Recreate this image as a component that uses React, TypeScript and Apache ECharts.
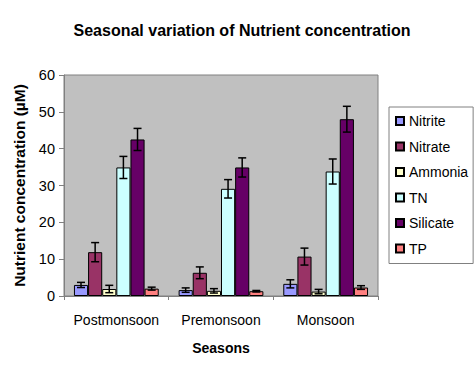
import React, { useEffect, useRef } from "react";
import * as echarts from "echarts";

const seasons = ["Postmonsoon", "Premonsoon", "Monsoon"];
const nutrients = ["Nitrite", "Nitrate", "Ammonia", "TN", "Silicate", "TP"];
const colors = ["#9999FF", "#993366", "#FFFFCC", "#CCFFFF", "#660066", "#FF8080"];

const nitrite = [3.0, 1.6, 3.3];
const nitrate = [11.9, 6.3, 10.7];
const ammonia = [1.9, 1.4, 1.2];
const tn = [34.9, 29.1, 33.8];
const silicate = [42.5, 34.9, 48.0];
const tp = [2.0, 1.3, 2.3];

const nitriteErr = [0.7, 0.6, 1.1];
const nitrateErr = [2.6, 1.6, 2.3];
const ammoniaErr = [1.0, 0.6, 0.6];
const tnErr = [3.0, 2.5, 3.4];
const silicateErr = [3.0, 2.6, 3.5];
const tpErr = [0.4, 0.2, 0.5];

const yTicks = [0, 10, 20, 30, 40, 50, 60];

const values = [nitrite, nitrate, ammonia, tn, silicate, tp];
const errors = [nitriteErr, nitrateErr, ammoniaErr, tnErr, silicateErr, tpErr];

const CAT_GAP = 0.19;
const FONT = "Liberation Sans, Arial, sans-serif";

export default function App() {
  const ref = useRef<HTMLDivElement>(null);
  useEffect(() => {
    document.body.style.margin = "0";
    if (!ref.current) return;
    const chart = echarts.init(ref.current, null, { renderer: "svg" });
    const n = nutrients.length;
    const barSeries = nutrients.map((name, i) => ({
      name,
      type: "bar",
      data: values[i],
      barGap: "0%",
      barCategoryGap: CAT_GAP * 100 + "%",
      itemStyle: { color: colors[i], borderColor: "#000", borderWidth: 1 },
      z: 2,
    }));
    const errSeries = nutrients.map((name, i) => ({
      name: name + " err",
      type: "custom",
      data: values[i].map((v, j) => [j, v, errors[i][j]]),
      z: 5,
      renderItem: (params: any, api: any) => {
        const cat = api.value(0);
        const v = api.value(1);
        const e = api.value(2);
        const band = api.size([1, 0])[0];
        const bw = (band * (1 - CAT_GAP)) / n;
        const center = api.coord([cat, v]);
        const x = center[0] + (i - (n - 1) / 2) * bw;
        const hi = api.coord([cat, v + e])[1];
        const lo = api.coord([cat, Math.max(0, v - e)])[1];
        const cap = 4;
        const style = { stroke: "#000", lineWidth: 1.5 };
        return {
          type: "group",
          children: [
            { type: "line", shape: { x1: x, y1: hi, x2: x, y2: lo }, style },
            { type: "line", shape: { x1: x - cap, y1: hi, x2: x + cap, y2: hi }, style },
            { type: "line", shape: { x1: x - cap, y1: lo, x2: x + cap, y2: lo }, style },
          ],
        };
      },
    }));
    chart.setOption({
      animation: false,
      textStyle: { fontFamily: FONT, color: "#000" },
      title: {
        text: "Seasonal variation of Nutrient concentration",
        left: 237,
        textAlign: "center",
        top: 17,
        textStyle: { fontSize: 16, fontWeight: "bold", color: "#000", fontFamily: FONT },
      },
      legend: {
        data: nutrients,
        orient: "vertical",
        left: 389,
        top: 107,
        width: 81,
        padding: [7, 5, 8, 6],
        itemWidth: 8,
        itemHeight: 8,
        itemGap: 11.5,
        icon: "rect",
        borderColor: "#808080",
        borderWidth: 1,
        textStyle: { fontSize: 14, color: "#000", fontFamily: FONT },
      },
      grid: {
        left: 64,
        top: 75,
        right: 96,
        bottom: 81,
        show: true,
        backgroundColor: "#C0C0C0",
        borderColor: "#808080",
        borderWidth: 1,
      },
      xAxis: {
        type: "category",
        data: seasons,
        name: "Seasons",
        nameLocation: "middle",
        nameGap: 45,
        nameTextStyle: { fontSize: 14, fontWeight: "bold", color: "#000", fontFamily: FONT },
        axisLine: { lineStyle: { color: "#808080" } },
        axisTick: { show: true, length: 4, lineStyle: { color: "#808080" } },
        axisLabel: { fontSize: 14, color: "#000", margin: 17, fontFamily: FONT, interval: 0, hideOverlap: false },
      },
      yAxis: {
        type: "value",
        min: yTicks[0],
        max: yTicks[yTicks.length - 1],
        interval: 10,
        name: "Nutrient concentration (µM)",
        nameLocation: "middle",
        nameGap: 27,
        nameTextStyle: { fontSize: 15.5, fontWeight: "bold", color: "#000", fontFamily: FONT },
        axisLine: { show: true, lineStyle: { color: "#808080" } },
        axisTick: { show: true, length: 5, lineStyle: { color: "#808080" } },
        axisLabel: { fontSize: 14.5, color: "#000", margin: 9, fontFamily: FONT },
        splitLine: { show: false },
      },
      series: [...barSeries, ...errSeries],
    });
    return () => chart.dispose();
  }, []);
  return <div ref={ref} style={{ width: 474, height: 377 }} />;
}
